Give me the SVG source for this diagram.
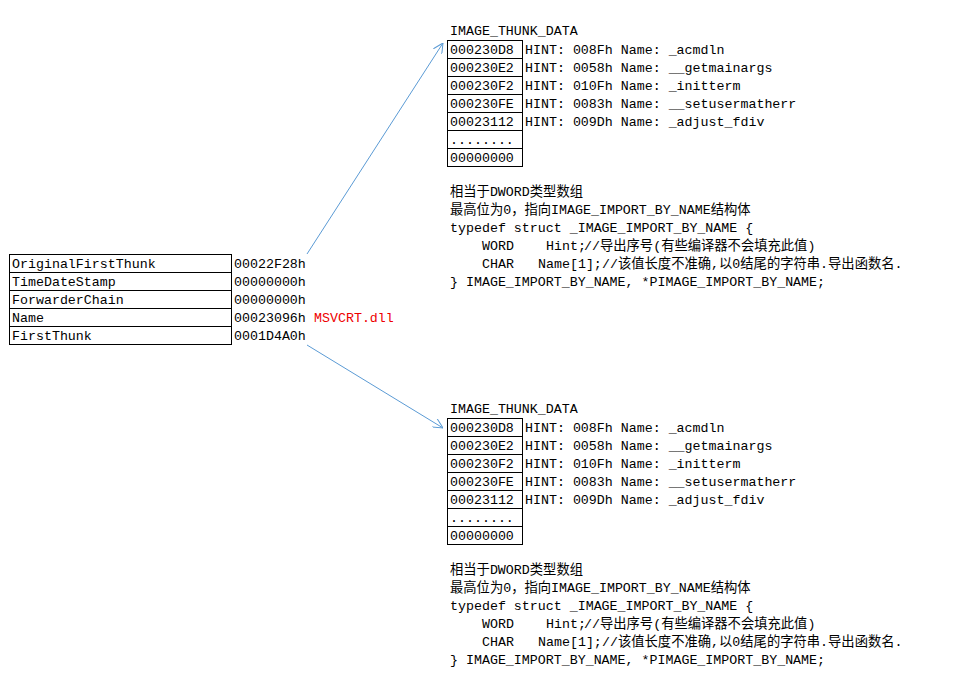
<svg xmlns="http://www.w3.org/2000/svg" width="964" height="689" viewBox="0 0 964 689">
<defs>
<style>
text{font-family:"Liberation Mono","Noto Sans CJK SC",monospace;font-size:13.3px;fill:#000}
.red{fill:#e00}
rect{fill:#fff;stroke:#000;stroke-width:1}
.c{stroke:#5b9bd5;stroke-width:1;fill:none}
</style>
<marker id="ah" viewBox="0 0 10 10" refX="10" refY="5" markerWidth="10" markerHeight="10" orient="auto" markerUnits="userSpaceOnUse"><path d="M0,0 L10,5 L0,10" fill="none" stroke="#5b9bd5" stroke-width="1"/></marker>
<g id="thunkTable">
<text x="450" y="35">IMAGE_THUNK_DATA</text>
<rect x="447.5" y="40.5" width="75" height="18"/><rect x="447.5" y="58.5" width="75" height="18"/><rect x="447.5" y="76.5" width="75" height="18"/><rect x="447.5" y="94.5" width="75" height="18"/><rect x="447.5" y="112.5" width="75" height="18"/><rect x="447.5" y="130.5" width="75" height="18"/><rect x="447.5" y="148.5" width="75" height="18"/>
<text x="450" y="54">000230D8</text><text x="525" y="54">HINT: 008Fh Name: _acmdln</text>
<text x="450" y="72">000230E2</text><text x="525" y="72">HINT: 0058h Name: __getmainargs</text>
<text x="450" y="90">000230F2</text><text x="525" y="90">HINT: 010Fh Name: _initterm</text>
<text x="450" y="108">000230FE</text><text x="525" y="108">HINT: 0083h Name: __setusermatherr</text>
<text x="450" y="126">00023112</text><text x="525" y="126">HINT: 009Dh Name: _adjust_fdiv</text>
<text x="450" y="144">........</text>
<text x="450" y="162">00000000</text>
<text x="450" y="196">相当于DWORD类型数组</text>
<text x="450" y="214">最高位为0，指向IMAGE_IMPORT_BY_NAME结构体</text>
<text x="450" y="232">typedef struct _IMAGE_IMPORT_BY_NAME {</text>
<text x="482" y="250">WORD</text><text x="546" y="250">Hint;</text><text x="584" y="250">//导出序号(有些编译器不会填充此值)</text>
<text x="482" y="268">CHAR</text><text x="538" y="268">Name[1];</text><text x="602" y="268">//该值长度不准确,以0结尾的字符串.导出函数名.</text>
<text x="450" y="286">} IMAGE_IMPORT_BY_NAME, *PIMAGE_IMPORT_BY_NAME;</text>
</g>
</defs>
<rect x="0" y="0" width="964" height="689" style="stroke:none;fill:#fff"/>
<g id="descriptor">
<rect x="9.5" y="254.5" width="222" height="18"/><rect x="9.5" y="272.5" width="222" height="18"/><rect x="9.5" y="290.5" width="222" height="18"/><rect x="9.5" y="308.5" width="222" height="18"/><rect x="9.5" y="326.5" width="222" height="18"/>
<text x="12" y="268">OriginalFirstThunk</text><text x="234" y="268">00022F28h</text>
<text x="12" y="286">TimeDateStamp</text><text x="234" y="286">00000000h</text>
<text x="12" y="304">ForwarderChain</text><text x="234" y="304">00000000h</text>
<text x="12" y="322">Name</text><text x="234" y="322">00023096h</text><text class="red" x="314" y="322">MSVCRT.dll</text>
<text x="12" y="340">FirstThunk</text><text x="234" y="340">0001D4A0h</text>
</g>
<g id="intTable"><use href="#thunkTable"/></g>
<g id="iatTable"><use href="#thunkTable" y="378"/></g>
<g id="connectors">
<line class="c" x1="307" y1="254" x2="443" y2="43" marker-end="url(#ah)"/>
<line class="c" x1="307" y1="345" x2="443" y2="428" marker-end="url(#ah)"/>
</g>
</svg>
